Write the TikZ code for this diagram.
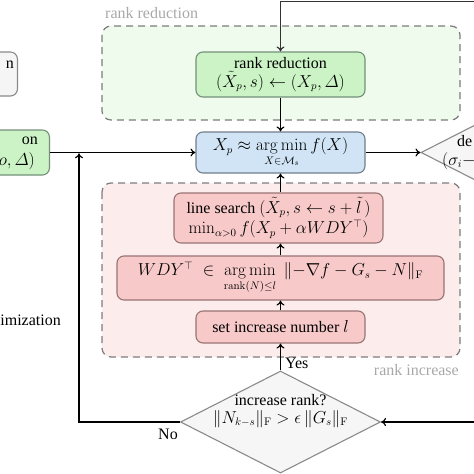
\documentclass[tikz,border=0pt]{standalone}
\usepackage{amsmath}
\usepackage[no-math]{fontspec}
\setmainfont{Liberation Serif}
\usetikzlibrary{arrows.meta,shapes.geometric}
\definecolor{gfill}{HTML}{CBF3C5}
\definecolor{gdraw}{HTML}{74907A}
\definecolor{bfill}{HTML}{D0E4F5}
\definecolor{bdraw}{HTML}{707E8C}
\definecolor{pfill}{HTML}{F8C9C9}
\definecolor{pdraw}{HTML}{987474}
\definecolor{nfill}{HTML}{F5F5F5}
\definecolor{ndraw}{HTML}{8A8A8A}
\definecolor{rgfill}{HTML}{EFFBED}
\definecolor{rpfill}{HTML}{FDECEC}
\definecolor{rdraw}{HTML}{7C7C7C}
\definecolor{lblgrey}{HTML}{A8A8A8}
\newcommand{\fs}{\fontsize{16}{18}\selectfont}
\newcommand{\amin}{\mathop{\mathrm{arg\,min}}\limits}
\begin{document}
\begin{tikzpicture}[x=1pt,y=-1pt,
  box/.style={draw, rounded corners=7pt, line width=1.1pt, align=center, font=\fs, inner sep=2pt},
  greenbox/.style={box, fill=gfill, draw=gdraw},
  bluebox/.style={box, fill=bfill, draw=bdraw},
  pinkbox/.style={box, fill=pfill, draw=pdraw},
  greybox/.style={box, fill=nfill, draw=ndraw},
  decision/.style={diamond, draw=ndraw, fill=nfill!85!white, line width=1.1pt, minimum width=200pt, minimum height=102pt, inner sep=0pt},
  region/.style={draw=rdraw, dash pattern=on 7pt off 5pt, line width=1.2pt, rounded corners=9pt},
  lbl/.style={font=\fs, inner sep=0pt},
  arr/.style={-{To[length=5pt,width=8pt]}, line width=1.2pt},
]
\useasboundingbox (0,0) rectangle (474,474);
\clip (0,0) rectangle (474,474);

% regions
\draw[region, fill=rgfill] (102,26) rectangle (460,120);
\draw[region, fill=rpfill] (102,183) rectangle (460,357);
\node[lbl, text=lblgrey, anchor=west] (rrlabel) at (105,13) {rank reduction};
\node[lbl, text=lblgrey, anchor=east] (rilabel) at (459,370) {rank increase};

% main nodes
\node[greenbox, minimum width=169pt, minimum height=45pt] (rr) at (280.5,74.5)
  {rank reduction\\[1pt] $(\tilde X_p, s) \leftarrow (X_p, \varDelta)$};
\node[bluebox, minimum width=169pt, minimum height=41pt] (xp) at (280.5,152.5)
  {$X_p \approx \amin_{X\in\mathcal{M}_s} f(X)$};
\node[pinkbox, minimum width=209pt, minimum height=50pt] (ls) at (278.5,218)
  {line search $(\tilde X_p, s \leftarrow s+\tilde l\,)$\\[1pt] $\min_{\alpha>0} f(X_p + \alpha W D Y^{\top})$};
\node[pinkbox, minimum width=327pt, minimum height=44pt] (wdy) at (280.5,278)
  {$W D Y^{\top} \;\in\; \amin_{\mathrm{rank}(N)\le l}\; \|{-\nabla f} - G_s - N\|_{\mathrm{F}}$};
\node[pinkbox, minimum width=169pt, minimum height=32pt] (set) at (280.5,327)
  {set increase number $l$};

% decisions
\node[decision] (inc) at (280.5,422) {};
\node[lbl, align=center] (inctext) at (280.5,411)
  {increase rank?\\ $\|N_{k-s}\|_{\mathrm{F}} > \epsilon\,\|G_s\|_{\mathrm{F}}$};
\node[decision] (dec) at (521,152.5) {};
\node[lbl, anchor=west] (dectext1) at (457,141) {de};
\node[lbl, anchor=west] (dectext2) at (442,161) {$(\sigma_i -$};

% left, cut-off nodes
\node[greybox, minimum width=100pt, minimum height=44pt, anchor=east] (lg) at (18,74) {};
\node[lbl, anchor=east] (lgtext) at (14,65) {n};
\node[greenbox, minimum width=100pt, minimum height=45pt, anchor=east] (ln) at (50,152.5) {};
\node[lbl, anchor=east] (lntext1) at (38,141) {on};
\node[lbl, anchor=east] (lntext2) at (35,161) {$o, \varDelta)$};
\node[lbl, anchor=east] (opt) at (61,320) {imization};

% coordinates
\coordinate (tr) at (474,1.2);
\coordinate (ri) at (474,422);
\coordinate (lc) at (79,422);
\coordinate (lj) at (79,153.3);

% connectors
\draw[arr, draw=black!80] (tr) -| (rr.north);
\draw[arr] (rr.south) -- (xp.north);
\draw[arr] (ls.north -| xp.south) -- (xp.south);
\draw[arr] (wdy.north) -- (wdy.north |- ls.south);
\draw[arr] (set.north) -- (wdy.south);
\draw[arr] (inc.north) -- (set.south) node[lbl, pos=0.25, anchor=west, xshift=4pt] (yes) {Yes};
\draw[arr] (ln.east) -- (xp.west);
\draw[arr] (inc.west) -- (lc) -- (lj);
\node[lbl] (no) at (168,434) {No};
\draw[arr] (xp.east) -- (dec.west);
\draw[arr] (ri) -- (inc.east);
\end{tikzpicture}
\end{document}
